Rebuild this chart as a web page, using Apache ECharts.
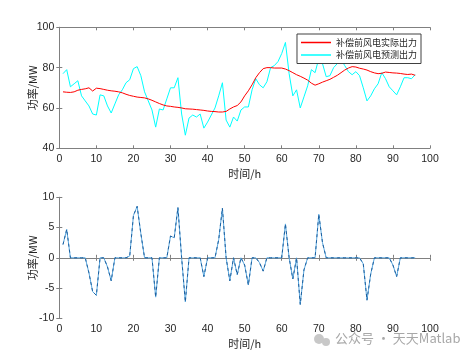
<!DOCTYPE html>
<html><head><meta charset="utf-8">
<script src="https://cdn.jsdelivr.net/npm/echarts@6/dist/echarts.min.js"></script>
<style>html,body{margin:0;padding:0;background:#fff}#c{width:474px;height:358px}</style>
</head><body><div id="c"></div>
<script>
const hours = Array.from({length: 96}, (_, i) => i + 1);
const actual = [68,67.8,67.7,68,68.8,69.2,69.5,70,68.4,69.8,69.6,69.2,68.8,68.5,68.3,68,67.5,66.8,66.2,65.8,65.4,65.2,65,64.5,63.8,63,62.2,61.5,61,60.8,60.5,60.3,60,59.6,59.5,59.4,59.2,59,58.8,58.5,58.3,58.2,58,58,58.3,59.5,60.5,61.2,63,66,68.5,71.5,75,77.5,79.5,80,80,79.8,79.8,79.8,79.3,78.5,77.5,76.5,75.7,74.8,73.8,72.3,71.3,72,72.8,73.5,74.2,75.2,76.2,77.5,78.8,79.8,80.5,80.3,79.7,79.3,78.8,78,77.4,77,77.2,77.8,77.6,77.4,77.3,77.1,76.8,76.6,76.8,76.2];
const forecast = [77,79,70.5,72,73.5,66,63.5,61,57,56.5,66.5,66,61,57.5,62,66.5,69,72.5,74,79.5,80.5,76,68,63.5,59,50.5,59.5,59,64.5,70,70,75,57,46.5,55,56.5,55.5,57,50,53,56.5,60,66,72.5,54,50.5,55.5,53.5,59,60.5,60.5,69,74.5,71.5,70,73,80,81,83,87,92.5,77,66,69,60,65.5,71,79,77.5,84.5,82,75.5,76,80,82,84,81,78,76.5,78,76,70,63.5,66,69.5,72,77.5,74.5,70.5,68.5,66.5,70.5,75,75,74.5,76.5];
const compensation = [2.2,4.7,0,0,0,0,0,-2.5,-5.6,-6.2,0,0,-1.5,-3.8,0,0,0,0,0.3,7,8.5,4,0,0,0,-6.5,0,0,0,3.6,3.3,8.3,0,-7.3,0,0,0,0,-3.1,0,0,0,3,8.2,0,-3.8,0,-2.8,0,-1.2,-4.5,0,0,-0.8,-2.2,0,0,0,0,0,5.6,0,-3.5,0,-7.7,-2,0,0,0,7.2,2.5,0,0,0,0,0,0,0,0,0,0,-1,-7,-2.7,0,0,0,0,0,-1.2,-3.1,0,0,0,0,0];
const xTicks = [0,10,20,30,40,50,60,70,80,90,100];
const topYTicks = [40,60,80,100];
const botYTicks = [-10,-5,0,5,10];

const pair = (ys) => hours.map((h, i) => [h, ys[i]]);
const axisColor = '#808080';
const labelColor = '#262626';
const font = 'Liberation Sans, Arial, sans-serif';
const cjk = 'Noto Sans CJK SC, sans-serif';

function xAxes(gi) {
  return [
    {gridIndex: gi, type: 'value', min: 0, max: 100, interval: 10, position: 'bottom',
     name: '时间/h', nameLocation: 'middle', nameGap: 20,
     nameTextStyle: {color: labelColor, fontSize: 11, fontFamily: cjk},
     axisLine: {lineStyle: {color: axisColor}}, axisTick: {inside: true, length: 3, lineStyle: {color: axisColor}},
     axisLabel: {color: labelColor, fontSize: 10.5, fontFamily: font, margin: 5}, splitLine: {show: false}},
    {gridIndex: gi, type: 'value', min: 0, max: 100, interval: 10, position: 'top',
     axisLine: {lineStyle: {color: axisColor}}, axisTick: {inside: true, length: 3, lineStyle: {color: axisColor}},
     axisLabel: {show: false}, splitLine: {show: false}}
  ];
}
function yAxes(gi, min, max, interval) {
  return [
    {gridIndex: gi, type: 'value', min: min, max: max, interval: interval, position: 'left',
     name: '功率/MW', nameLocation: 'middle', nameGap: 21, nameRotate: 90, nameMoveOverlap: false,
     nameTextStyle: {color: labelColor, fontSize: 11, fontFamily: cjk},
     axisLine: {show: true, lineStyle: {color: axisColor}}, axisTick: {show: true, inside: true, length: 3, lineStyle: {color: axisColor}},
     axisLabel: {color: labelColor, fontSize: 10.5, fontFamily: font, margin: 5}, splitLine: {show: false}},
    {gridIndex: gi, type: 'value', min: min, max: max, interval: interval, position: 'right',
     axisLine: {show: true, lineStyle: {color: axisColor}}, axisTick: {show: true, inside: true, length: 3, lineStyle: {color: axisColor}},
     axisLabel: {show: false}, splitLine: {show: false}}
  ];
}

const chart = echarts.init(document.getElementById('c'));
chart.setOption({
  backgroundColor: '#fff',
  animation: false,
  grid: [
    {left: 59.3, right: 44, top: 27.3, height: 121},
    {left: 59.3, right: 44, top: 197.3, height: 121}
  ],
  xAxis: [...xAxes(0), ...xAxes(1)],
  yAxis: [...yAxes(0, topYTicks[0], topYTicks[topYTicks.length-1], 20), ...yAxes(1, botYTicks[0], botYTicks[botYTicks.length-1], 5)],
  legend: {
    right: 53, top: 34, orient: 'vertical', icon: 'rect', itemWidth: 30, itemHeight: 1.5, itemGap: 3.5,
    backgroundColor: '#fff', borderColor: '#404040', borderWidth: 1, padding: [4, 4, 4, 4],
    textStyle: {fontSize: 9, fontFamily: cjk, color: '#262626', lineHeight: 9},
    data: ['补偿前风电实际出力', '补偿前风电预测出力']
  },
  graphic: [
    {type: 'circle', shape: {cx: 319, cy: 339, r: 5}, style: {fill: '#c8c8c8'}},
    {type: 'circle', shape: {cx: 326, cy: 342, r: 4}, style: {fill: '#c8c8c8'}},
    {type: 'text', left: 335, top: 332, style: {text: '公众号 · 天天Matlab', fill: '#a8a8a8', font: '13px ' + cjk}}
  ],
  series: [
    {name: '补偿前风电实际出力', type: 'line', xAxisIndex: 0, yAxisIndex: 0, data: pair(actual), symbol: 'none',
     lineStyle: {color: '#ff0000', width: 1}, itemStyle: {color: '#ff0000'}, z: 3},
    {name: '补偿前风电预测出力', type: 'line', xAxisIndex: 0, yAxisIndex: 0, data: pair(forecast), symbol: 'none',
     lineStyle: {color: '#00ffff', width: 1}, itemStyle: {color: '#00ffff'}, z: 2},
    {type: 'line', xAxisIndex: 2, yAxisIndex: 2, data: pair(compensation), symbol: 'none',
     lineStyle: {color: '#5aa8e0', width: 1}},
    {type: 'line', xAxisIndex: 2, yAxisIndex: 2, data: pair(compensation), symbol: 'none',
     lineStyle: {color: '#1d5f9e', width: 1, type: [3, 3]}}
  ]
});
</script></body></html>
